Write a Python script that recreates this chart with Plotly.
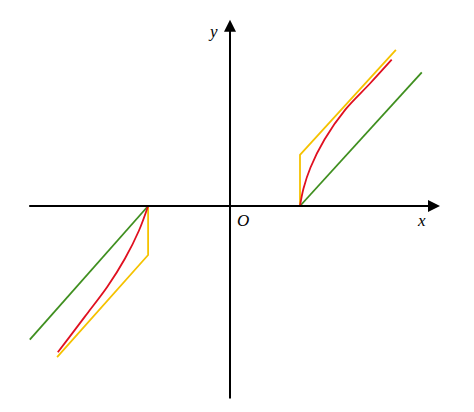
import plotly.graph_objects as go

# values in axis units (1 unit = 70 px)
green_r_x = [1.0, 2.74]; green_r_y = [0.0, 1.91]
yellow_r_x = [1.0, 1.0, 2.37]; yellow_r_y = [0.0, 0.73, 2.23]
red_r_x = [1.0, 1.05, 1.15, 1.35, 1.65, 2.0, 2.31]
red_r_y = [0.0, 0.25, 0.55, 0.95, 1.38, 1.75, 2.09]
green_l_x = [-1.17, -2.86]; green_l_y = [0.0, -1.91]
yellow_l_x = [-1.17, -1.17, -2.47]; yellow_l_y = [0.0, -0.7, -2.16]
red_l_x = [-1.17, -1.3, -1.5, -1.75, -2.05, -2.3, -2.46]
red_l_y = [0.0, -0.35, -0.75, -1.15, -1.55, -1.88, -2.09]

GREEN, RED, YEL = "#3f8f1f", "#e01020", "#f5c200"
fig = go.Figure()
for xs, ys, c in [(green_r_x, green_r_y, GREEN), (yellow_r_x, yellow_r_y, YEL),
                  (red_r_x, red_r_y, RED), (green_l_x, green_l_y, GREEN),
                  (yellow_l_x, yellow_l_y, YEL), (red_l_x, red_l_y, RED)]:
    fig.add_trace(go.Scatter(x=xs, y=ys, mode="lines", line=dict(color=c, width=1.8),
                             line_shape="spline" if c == RED else "linear",
                             showlegend=False, hoverinfo="skip"))

fig.add_annotation(x=3.0, y=0, ax=-2.89, ay=0, xref="x", yref="y", axref="x", ayref="y",
                   showarrow=True, arrowhead=2, arrowsize=1.2, arrowwidth=2, arrowcolor="black", text="")
fig.add_annotation(x=0, y=2.66, ax=0, ay=-2.77, xref="x", yref="y", axref="x", ayref="y",
                   showarrow=True, arrowhead=2, arrowsize=1.2, arrowwidth=2, arrowcolor="black", text="")
font = dict(family="Liberation Serif", size=17, color="black")
fig.add_annotation(x=2.74, y=-0.2, text="<i>x</i>", showarrow=False, font=font)
fig.add_annotation(x=-0.24, y=2.5, text="<i>y</i>", showarrow=False, font=font)
fig.add_annotation(x=0.18, y=-0.2, text="<i>O</i>", showarrow=False, font=font)

fig.update_layout(width=474, height=412, margin=dict(l=0, r=0, t=0, b=0),
                  plot_bgcolor="white", paper_bgcolor="white",
                  xaxis=dict(range=[-222 / 70, 252 / 70], visible=False),
                  yaxis=dict(range=[-214 / 70, 198 / 70], visible=False))
fig.write_html("out.html")
